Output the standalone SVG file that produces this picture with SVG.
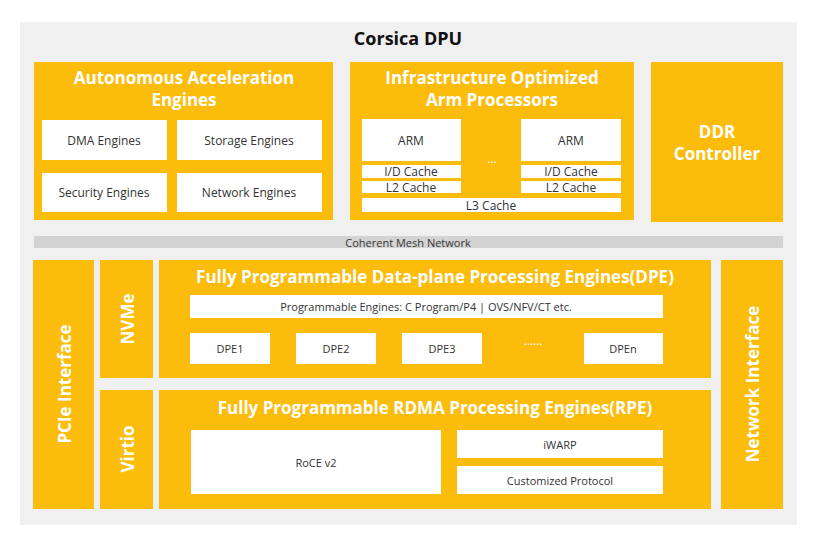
<svg xmlns="http://www.w3.org/2000/svg" width="813" height="534" viewBox="0 0 813 534">
<style>
.y{fill:#FBBC0C}.w{fill:#fff}
text{font-family:"Open Sans","Liberation Sans",sans-serif;text-anchor:middle;dominant-baseline:central}
.h{fill:#fff;font-weight:bold;font-size:17px}
.t{fill:#333;font-size:12px}
.s{fill:#333;font-size:11px}
</style>
<rect width="813" height="534" fill="#fff"/>
<rect x="20" y="22" width="777" height="503" fill="#f0f0f0"/>
<text x="408" y="38" font-size="18" font-weight="bold" fill="#111">Corsica DPU</text>
<g id="aae"><rect class="y" x="34" y="62" width="299" height="158"/>
<text class="h" x="184" y="77">Autonomous Acceleration</text><text class="h" x="184" y="99">Engines</text>
<rect class="w" x="42" y="120" width="125" height="40"/><text class="t" x="104" y="140">DMA Engines</text>
<rect class="w" x="177" y="120" width="145" height="40"/><text class="t" x="249" y="140">Storage Engines</text>
<rect class="w" x="42" y="173" width="125" height="39"/><text class="t" x="104" y="192">Security Engines</text>
<rect class="w" x="177" y="173" width="145" height="39"/><text class="t" x="249" y="192">Network Engines</text></g>
<g id="arm"><rect class="y" x="350" y="62" width="284" height="158"/>
<text class="h" x="492" y="77">Infrastructure Optimized</text><text class="h" x="492" y="99">Arm Processors</text>
<rect class="w" x="362" y="119" width="99" height="42"/><text class="t" x="411" y="140">ARM</text>
<rect class="w" x="362" y="165" width="99" height="13"/><text class="t" x="411" y="171.5">I/D Cache</text>
<rect class="w" x="362" y="181" width="99" height="12"/><text class="t" x="411" y="187">L2 Cache</text>
<rect class="w" x="521" y="119" width="100" height="42"/><text class="t" x="571" y="140">ARM</text>
<rect class="w" x="521" y="165" width="100" height="13"/><text class="t" x="571" y="171.5">I/D Cache</text>
<rect class="w" x="521" y="181" width="100" height="12"/><text class="t" x="571" y="187">L2 Cache</text>
<text x="492" y="158" font-size="12" fill="#fff">…</text>
<rect class="w" x="362" y="198" width="259" height="14"/><text class="t" x="491" y="205">L3 Cache</text></g>
<g id="ddr"><rect class="y" x="651" y="62" width="132" height="160"/>
<text class="h" x="717" y="131">DDR</text><text class="h" x="717" y="153">Controller</text></g>
<g id="mesh"><rect x="34" y="236" width="749" height="12" fill="#d3d3d3"/><text class="s" x="408" y="242">Coherent Mesh Network</text></g>
<g id="pcie"><rect class="y" x="33" y="260" width="61" height="249"/><text class="h" font-size="14" transform="translate(64 384) rotate(-90)">PCIe Interface</text></g>
<g id="nvme"><rect class="y" x="100" y="260" width="53" height="118"/><text class="h" font-size="14" transform="translate(127 319) rotate(-90)">NVMe</text></g>
<g id="virtio"><rect class="y" x="100" y="390" width="53" height="119"/><text class="h" font-size="14" transform="translate(127 449) rotate(-90)">Virtio</text></g>
<g id="dpe"><rect class="y" x="159" y="260" width="552" height="118"/>
<text class="h" x="435" y="276">Fully Programmable Data-plane Processing Engines(DPE)</text>
<rect class="w" x="190" y="295" width="473" height="23"/><text class="s" x="426" y="306.5">Programmable Engines: C Program/P4 | OVS/NFV/CT etc.</text>
<rect class="w" x="190" y="333" width="80" height="31"/><text class="s" x="230" y="348.5">DPE1</text>
<rect class="w" x="296" y="333" width="80" height="31"/><text class="s" x="336" y="348.5">DPE2</text>
<rect class="w" x="402" y="333" width="80" height="31"/><text class="s" x="442" y="348.5">DPE3</text>
<text x="533" y="340" font-size="12" fill="#fff">……</text>
<rect class="w" x="584" y="333" width="79" height="31"/><text class="s" x="623" y="348.5">DPEn</text></g>
<g id="rpe"><rect class="y" x="159" y="390" width="552" height="119"/>
<text class="h" x="435" y="407">Fully Programmable RDMA Processing Engines(RPE)</text>
<rect class="w" x="191" y="430" width="250" height="64"/><text class="s" x="316" y="462">RoCE v2</text>
<rect class="w" x="457" y="430" width="206" height="28"/><text class="s" x="560" y="444">iWARP</text>
<rect class="w" x="457" y="466" width="206" height="28"/><text class="s" x="560" y="480">Customized  Protocol</text></g>
<g id="net"><rect class="y" x="721" y="260" width="62" height="249"/><text class="h" font-size="14" transform="translate(752 384) rotate(-90)">Network Interface</text></g>
<g id="connectors"/>
</svg>
